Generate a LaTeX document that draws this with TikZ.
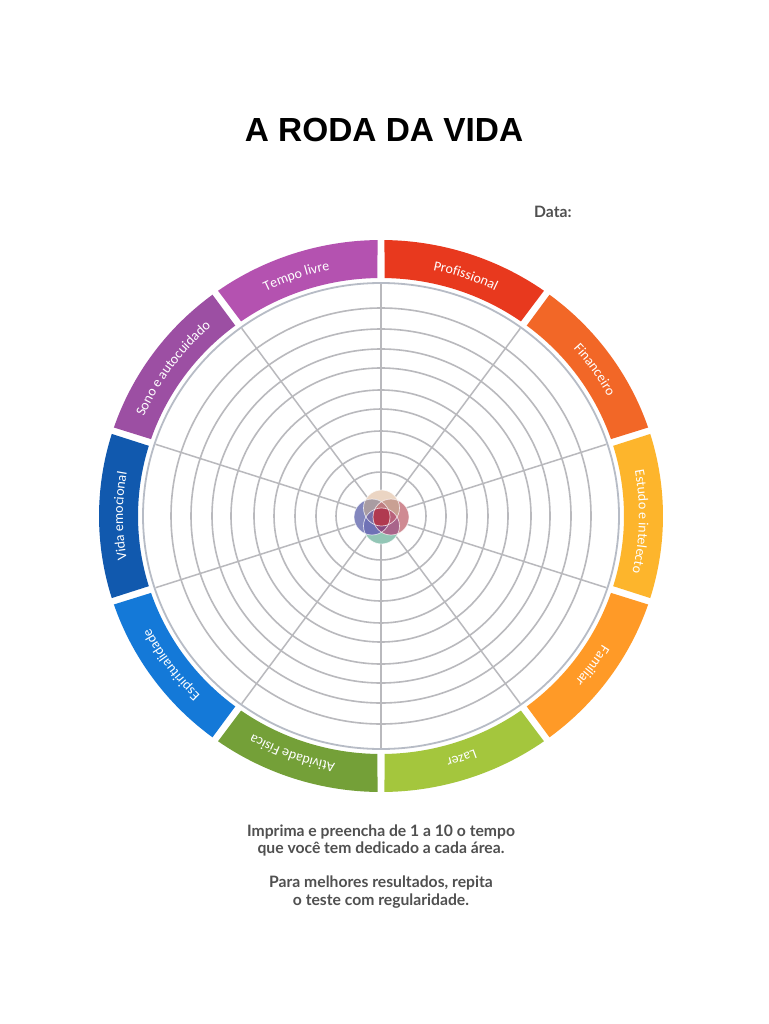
\documentclass[tikz,border=0pt]{standalone}
\usepackage{fontspec}
\setmainfont{Lato}
\newfontfamily\carlitofont{Carlito}
\newfontfamily\titlefont{Liberation Sans}
\usetikzlibrary{decorations.text}
\definecolor{gridgray}{HTML}{B9B9BD}
\definecolor{rimgray}{HTML}{B7BCC6}
\definecolor{bodygray}{HTML}{505050}
\definecolor{c1}{HTML}{E8391E}\definecolor{c2}{HTML}{F26727}\definecolor{c3}{HTML}{FDB52C}
\definecolor{c4}{HTML}{FF9A27}\definecolor{c5}{HTML}{A4C63D}\definecolor{c6}{HTML}{74A038}
\definecolor{c7}{HTML}{1479D8}\definecolor{c8}{HTML}{1159AE}\definecolor{c9}{HTML}{9C4FA3}
\definecolor{c10}{HTML}{B452B0}
\definecolor{fT}{HTML}{EBD5C3}\definecolor{fB}{HTML}{93C6B6}
\definecolor{fL}{HTML}{8387BE}\definecolor{fR}{HTML}{CF8A92}
\definecolor{fTL}{HTML}{A99CA2}\definecolor{fTR}{HTML}{C9A093}
\definecolor{fBL}{HTML}{6F72B6}\definecolor{fBR}{HTML}{A9658B}
\definecolor{fTop}{HTML}{BE7C80}\definecolor{fLeft}{HTML}{7A70A8}
\definecolor{fRight}{HTML}{B8607A}\definecolor{fBot}{HTML}{8A4A80}
\definecolor{fMid}{HTML}{B03A50}
\newcommand{\lblfont}{\carlitofont\fontsize{14}{14}\selectfont\color{white}}
% start angle, end angle, colour, text, label turn in degrees
\newcommand{\bandseg}[5]{%
  \fill[#3] ({381+282*cos(#1-0.7)},{-516+276*sin(#1-0.7)})
    arc[start angle=#1-0.7,end angle=#2+0.7,x radius=282,y radius=276]
    -- ({381+243*cos(#2+0.85)},{-516+238*sin(#2+0.85)})
    arc[start angle=#2+0.85,end angle=#1-0.85,x radius=243,y radius=238] -- cycle;
  \path[decorate,decoration={text along path,text align=center,
      text format delimiters={|}{|},text={|\lblfont|#4}}]
    ({381+258*cos(#1+#5)},{-516+251*sin(#1+#5)})
    arc[start angle=#1+#5,end angle=#2+#5,x radius=258,y radius=251];
}
\newcommand{\CT}{(381.5,-508) circle (18pt)}
\newcommand{\CB}{(381.5,-526) circle (18pt)}
\newcommand{\CL}{(372,-517) circle (18pt)}
\newcommand{\CR}{(391,-517) circle (18pt)}
\newcommand{\overlap}[3]{\begin{scope}\clip #1;\fill[#3] #2;\end{scope}}
\newcommand{\overlapthree}[4]{\begin{scope}\clip #1;\clip #2;\fill[#4] #3;\end{scope}}
\tikzset{
  ringline/.style={draw=gridgray,line width=1.6pt},
  spokeline/.style={draw=gridgray,line width=1.5pt},
  bodytext/.style={font=\bfseries\fontsize{15.7}{15.7}\selectfont,text=bodygray,inner sep=0pt,anchor=base},
  petaledge/.style={draw=white,draw opacity=0.75,line width=0.7pt},
}
\begin{document}
\begin{tikzpicture}[x=1pt,y=1pt]
\useasboundingbox (0,-1024) rectangle (768,0);
\fill[white] (0,-1024) rectangle (768,0);
% rings
\foreach \rx/\ry in {210/208,190/187,169/167,150/148,127/126,107/107,86/85,65/64,45/44}
  \draw[ringline] (381,-516) ellipse[x radius=\rx,y radius=\ry];
\draw[draw=rimgray,line width=1.8pt] (381,-516) ellipse[x radius=238,y radius=233];
% spokes
\foreach \a in {90,54,18,-18,-54}
  \draw[spokeline] ({381+237*cos(\a)},{-516+232*sin(\a)}) -- ({381-237*cos(\a)},{-516-232*sin(\a)});
% bands
\bandseg{90}{54}{c1}{Profissional}{-1}
\bandseg{54}{18}{c2}{Financeiro}{-1}
\bandseg{18}{-18}{c3}{Estudo e intelecto}{-1.3}
\bandseg{-18}{-54}{c4}{Familiar}{0}
\bandseg{-54}{-90}{c5}{Lazer}{0}
\bandseg{-90}{-126}{c6}{Atividade Física}{-2}
\bandseg{-126}{-162}{c7}{Espiritualidade}{0}
\bandseg{-162}{-198}{c8}{Vida emocional}{0}
\bandseg{-198}{-234}{c9}{Sono e autocuidado}{0}
\bandseg{-234}{-270}{c10}{Tempo livre}{1}
% flower
\fill[fT] \CT; \fill[fB] \CB; \fill[fL] \CL; \fill[fR] \CR;
\overlap{\CT}{\CL}{fTL}
\overlap{\CT}{\CR}{fTR}
\overlap{\CB}{\CL}{fBL}
\overlap{\CB}{\CR}{fBR}
\overlapthree{\CL}{\CR}{\CT}{fTop}
\overlapthree{\CL}{\CR}{\CB}{fBot}
\overlapthree{\CT}{\CB}{\CL}{fLeft}
\overlapthree{\CT}{\CB}{\CR}{fRight}
\begin{scope}\clip \CT;\clip \CB;\clip \CL;\fill[fMid] \CR;\end{scope}
\draw[petaledge] \CT; \draw[petaledge] \CB; \draw[petaledge] \CL; \draw[petaledge] \CR;
% texts
\node[inner sep=0pt,anchor=base,text=black] (title) at (384,-142)
  {\titlefont\bfseries\fontsize{33.4}{33.4}\selectfont A RODA DA VIDA};
\node[bodytext,anchor=base west] (data) at (534,-218) {Data:};
\node[bodytext] (l1) at (381,-836) {Imprima e preencha de 1 a 10 o tempo};
\node[bodytext] (l2) at (381,-853) {que você tem dedicado a cada área.};
\node[bodytext] (l3) at (381,-887) {Para melhores resultados, repita};
\node[bodytext] (l4) at (381,-905) {o teste com regularidade.};
\end{tikzpicture}
\end{document}
